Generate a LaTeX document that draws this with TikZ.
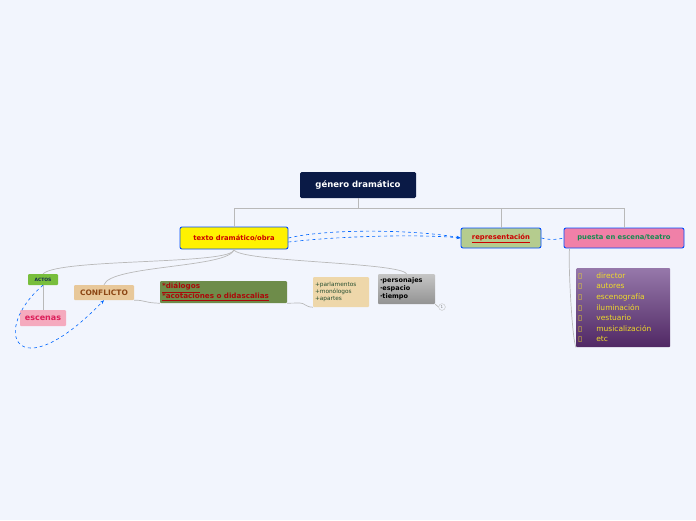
\documentclass[tikz,border=0pt]{standalone}
\usepackage{fontspec}
\setmainfont{DejaVu Sans}
\usetikzlibrary{arrows.meta}
\definecolor{bg}{HTML}{F2F5FD}
\tikzset{
 main/.style={draw=blue!70!cyan, line width=0.9pt, rounded corners=2pt, inner sep=0pt},
 con/.style={draw=gray!55, line width=0.7pt},
 bluedash/.style={draw=blue!60!cyan, dashed, line width=0.6pt, -{Stealth[length=4pt]}},
}
\begin{document}
\begin{tikzpicture}[x=1pt,y=-1pt,font=\bfseries]
\fill[bg] (0,0) rectangle (696,520);
\useasboundingbox (0,0) rectangle (696,520);
% nodes
\node[fill={rgb,255:red,10;green,26;blue,70}, rounded corners=1.5pt, minimum width=116, minimum height=26, text=white, font=\bfseries\fontsize{8.5}{9}\selectfont] (root) at (358,185) {género dramático};
\node[main, fill=yellow, minimum width=108, minimum height=22, text=red!80!black, font=\bfseries\fontsize{6.8}{7}\selectfont] (texto) at (234,238) {texto dramático/obra};
\node[main, fill={rgb,255:red,181;green,204;blue,142}, minimum width=80, minimum height=20, text=red!80!black, font=\bfseries\fontsize{6.8}{7}\selectfont] (rep) at (501,238) {\underline{representación}};
\node[main, fill={rgb,255:red,240;green,128;blue,168}, minimum width=120, minimum height=20, text={rgb,255:red,20;green,140;blue,80}, font=\bfseries\fontsize{6.8}{7}\selectfont] (puesta) at (624,238) {puesta en escena/teatro};
\node[fill={rgb,255:red,120;green,190;blue,60}, rounded corners=1pt, minimum width=30, minimum height=11, text={rgb,255:red,20;green,40;blue,80}, font=\bfseries\fontsize{4.5}{5}\selectfont] (actos) at (43,279.5) {ACTOS};
\node[fill={rgb,255:red,232;green,200;blue,154}, rounded corners=1pt, minimum width=60, minimum height=15, text={rgb,255:red,140;green,70;blue,20}, font=\bfseries\fontsize{7.5}{8}\selectfont] (conf) at (104,292.5) {CONFLICTO};
\node[fill={rgb,255:red,245;green,170;blue,190}, rounded corners=1pt, minimum width=46, minimum height=16, text={rgb,255:red,220;green,30;blue,90}, font=\bfseries\fontsize{8}{8}\selectfont] (esc) at (43,318) {escenas};
\node[fill={rgb,255:red,110;green,140;blue,74}, rounded corners=1pt, text width=123, inner sep=2pt, minimum height=22, text={rgb,255:red,170;green,10;blue,10}, align=left, font=\bfseries\fontsize{7.2}{8.4}\selectfont] (dial) at (223.5,292) {\underline{*diálogos}\\\underline{*acotaciones o didascalias}};
\node[fill={rgb,255:red,238;green,215;blue,170}, rounded corners=1pt, text width=52, inner sep=2pt, minimum height=30, text={rgb,255:red,40;green,80;blue,50}, align=left, font=\fontsize{5.8}{7.2}\selectfont] (parl) at (341,292) {+parlamentos\\+monólogos\\+apartes};
\node[top color=gray!45, bottom color=gray!85, rounded corners=1pt, text width=53, inner sep=2pt, minimum height=30, text=black, align=left, font=\bfseries\fontsize{6.5}{8}\selectfont] (pers) at (406.5,289) {·personajes\\·espacio\\·tiempo};
\node[draw=gray!50, circle, inner sep=1pt, font=\fontsize{4}{4}\selectfont, text=gray] (one) at (442,307) {1};
\node[top color={rgb,255:red,150;green,120;blue,170}, bottom color={rgb,255:red,80;green,40;blue,100}, rounded corners=1pt, text width=90, inner sep=2pt, minimum height=79, anchor=north west, text={rgb,255:red,240;green,220;blue,40}, align=left, font=\fontsize{7.5}{10.6}\selectfont] (list) at (576,268) {▯\hspace{14pt}director\\▯\hspace{14pt}autores\\▯\hspace{14pt}escenografía\\▯\hspace{14pt}iluminación\\▯\hspace{14pt}vestuario\\▯\hspace{14pt}musicalización\\▯\hspace{14pt}etc};
% connectors
\draw[con] (root.south) -- (358,208);
\draw[con] (234,208) -- (624,208);
\draw[con] (234,208) -- (texto.north);
\draw[con] (501,208) -- (rep.north);
\draw[con] (624,208) -- (puesta.north);
\draw[con] (texto.south) .. controls (234,265) and (60,258) .. (actos.north);
\draw[con] (texto.south) .. controls (230,268) and (110,265) .. (conf.north);
\draw[con] (texto.south) .. controls (236,262) and (400,262) .. (pers.north);
\draw[con] (actos.south) -- (esc.north);
\draw[con] (conf.south east) .. controls (145,300) and (145,303) .. (dial.south west);
\draw[con] (dial.south east) -- (300,303) .. controls (305,303) and (305,307) .. (parl.south west);
\draw[con] (pers.south east) -- (one.west);
\draw[con] (puesta.south west) ++(6,0) .. controls (568,260) and (572,340) .. (list.south west);
\draw[bluedash] (texto.east) .. controls (330,228) and (420,230) .. (rep.west);
\draw[bluedash] (texto.east) ++(0,4) .. controls (340,236) and (420,234) .. (rep.west);
\draw[bluedash,-] (rep.east) .. controls (550,240) and (555,240) .. (puesta.west);
\draw[bluedash] (actos.south) .. controls (-10,330) and (15,392) .. (conf.south);
\end{tikzpicture}
\end{document}
